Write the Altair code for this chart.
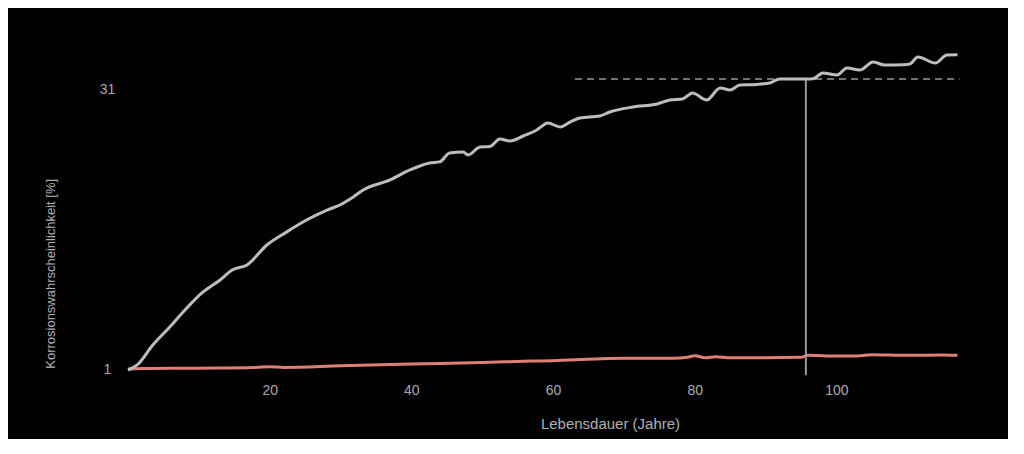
import altair as alt
import pandas as pd

# Grey curve (upper)
grey_years = [0, 1.3, 3.5, 5.9, 8.3, 10.6, 13.0, 14.7, 16.8, 19.6, 22.4, 25.2, 28.1, 29.9, 31.8,
              33.2, 37.0, 39.8, 42.6, 44.0, 45.4, 47.3, 48.0, 49.7, 51.1, 52.5, 53.9, 55.8, 57.7,
              59.3, 61.0, 62.4, 63.8, 66.6, 68.0, 71.3, 74.7, 76.5, 78.3, 79.7, 81.7, 83.6, 85.0,
              86.4, 88.8, 90.6, 92.0, 95.8, 96.7, 98.1, 100.1, 101.5, 103.3, 105.2, 106.8, 109.4,
              110.4, 111.5, 114.0, 115.6, 117.1]
grey_values = [1.0, 1.54, 3.68, 5.61, 7.64, 9.36, 10.64, 11.71, 12.25, 14.39, 15.79, 17.07, 18.14,
               18.68, 19.54, 20.29, 21.36, 22.43, 23.18, 23.3, 24.25, 24.36, 24.04, 24.89, 24.95,
               25.75, 25.54, 26.07, 26.71, 27.46, 27.04, 27.57, 28.0, 28.21, 28.64, 29.18, 29.5,
               29.93, 30.04, 30.68, 29.93, 31.21, 31.0, 31.54, 31.6, 31.75, 32.18, 32.18, 32.2,
               32.82, 32.61, 33.36, 33.14, 34.0, 33.68, 33.7, 33.79, 34.54, 33.89, 34.75, 34.78]

# Red curve (lower)
red_years = [0, 2, 10, 18, 20, 22, 30, 40, 50, 57, 60, 66, 70, 77, 79, 80, 81.5, 83, 85, 90, 95,
             96, 100, 103, 105, 110, 115, 117.1]
red_values = [1.1, 1.15, 1.2, 1.27, 1.35, 1.28, 1.45, 1.64, 1.8, 1.96, 2.0, 2.18, 2.25, 2.25, 2.36,
              2.53, 2.32, 2.43, 2.32, 2.32, 2.36, 2.57, 2.5, 2.5, 2.64, 2.57, 2.6, 2.57]

# Reference markers
marker_year = [95.7]
marker_low = [0.45]
marker_level = [32.18]
dash_start = [63.1]
dash_end = [117.4]

x_ticks = [20, 40, 60, 80, 100]
y_ticks = [1, 31]

grey_df = pd.DataFrame({"x": grey_years, "y": grey_values})
red_df = pd.DataFrame({"x": red_years, "y": red_values})
vline_df = pd.DataFrame({"x": marker_year, "y": marker_low, "y2": marker_level})
hline_df = pd.DataFrame({"x": dash_start, "x2": dash_end, "y": marker_level})

xscale = alt.Scale(domain=[0, 120], nice=False, zero=False)
yscale = alt.Scale(domain=[0, 36], nice=False, zero=False)

xaxis = alt.Axis(
    values=x_ticks, title="Lebensdauer (Jahre)", grid=False, domain=False, ticks=False,
    tickSize=0, labelPadding=4, labelFontSize=14, labelColor="#a9a9a9", labelFont="Liberation Sans",
    titleFont="Liberation Sans", titleFontSize=15, titleFontWeight="normal", titleColor="#b0b0b0",
    titleX=482, titleY=44, titleBaseline="middle", titleAlign="center",
)
yaxis = alt.Axis(
    values=y_ticks, title="Korrosionswahrscheinlichkeit [%]", grid=False, domain=False, ticks=False,
    tickSize=0, labelPadding=21, labelAlign="center", labelFontSize=14, labelColor="#a9a9a9",
    labelFont="Liberation Sans", titleFont="Liberation Sans", titleFontSize=13,
    titleFontWeight="normal", titleColor="#b0b0b0", titleX=-78, titleY=230, titleAngle=-90,
    titleAlign="center", titleBaseline="middle",
)

red = alt.Chart(red_df).mark_line(color="#df8076", strokeWidth=3, interpolate="monotone").encode(
    x=alt.X("x:Q", scale=xscale, axis=xaxis),
    y=alt.Y("y:Q", scale=yscale, axis=yaxis),
)

vline = alt.Chart(vline_df).mark_rule(color="#9a9a9a", strokeWidth=2).encode(
    x=alt.X("x:Q", scale=xscale), y=alt.Y("y:Q", scale=yscale), y2="y2:Q"
)

hline = alt.Chart(hline_df).mark_rule(color="#9a9a9a", strokeWidth=1.5, strokeDash=[7, 5]).encode(
    x=alt.X("x:Q", scale=xscale), x2="x2:Q", y=alt.Y("y:Q", scale=yscale)
)

grey = alt.Chart(grey_df).mark_line(color="#bdbdbd", strokeWidth=3, interpolate="monotone").encode(
    x=alt.X("x:Q", scale=xscale), y=alt.Y("y:Q", scale=yscale)
)

chart = alt.layer(red, vline, hline, grey).properties(
    width=850, height=336, background="#000000",
    autosize=alt.AutoSizeParams(type="none"),
    padding={"left": 120, "top": 35.33, "right": 30, "bottom": 60},
).configure_view(stroke=None)

chart.save("out.html", embed_options={"renderer": "svg", "actions": False})
